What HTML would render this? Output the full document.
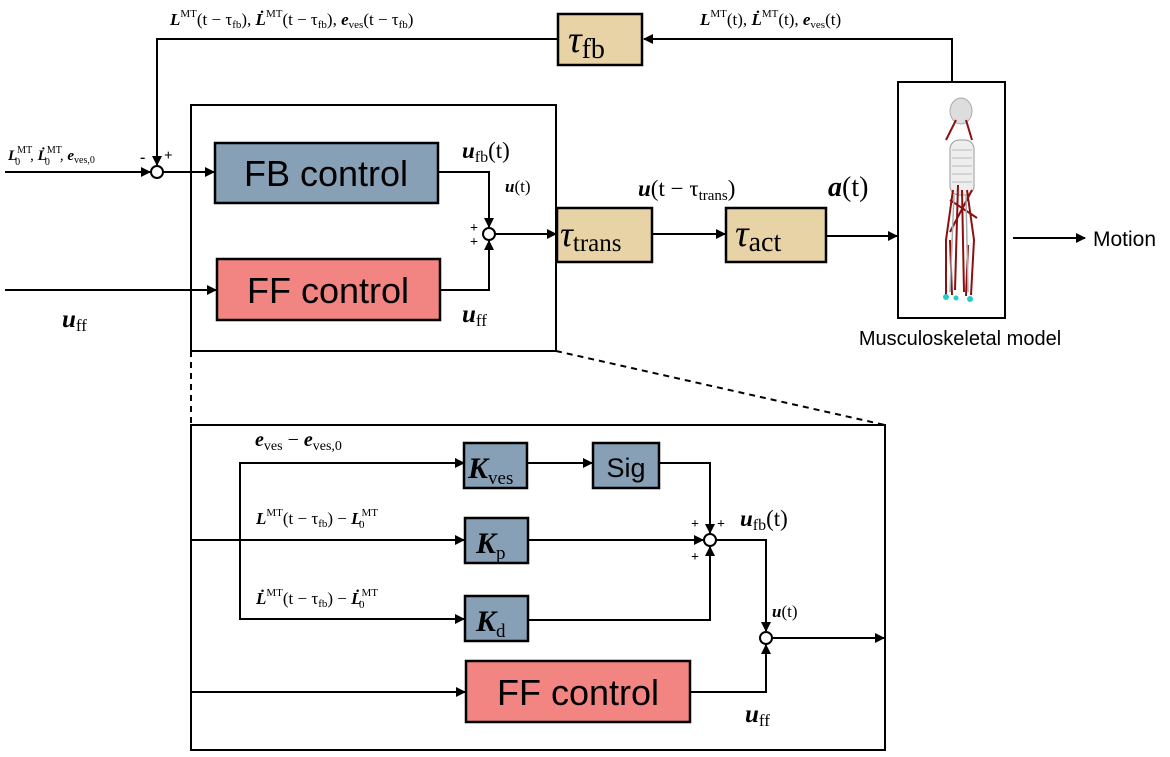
<!DOCTYPE html>
<html><head><meta charset="utf-8"><style>
html,body{margin:0;padding:0;background:#fff;}
svg{display:block;}
.m{font-family:"Liberation Serif",serif;}
.s{font-family:"Liberation Sans",sans-serif;}
</style></head><body>
<svg width="1170" height="757" viewBox="0 0 1170 757" xmlns="http://www.w3.org/2000/svg">
<defs>
<marker id="a" markerWidth="10" markerHeight="10" refX="9" refY="5" orient="auto" markerUnits="userSpaceOnUse">
<path d="M0,0 L10,5 L0,10 z" fill="#000"/></marker>
</defs>
<g stroke="#000" stroke-width="2" fill="none">
<polyline points="952,82 952,39 644,39" marker-end="url(#a)"/>
<polyline points="558,39 157,39 157,165" marker-end="url(#a)"/>
<line x1="5" y1="172" x2="150" y2="172" marker-end="url(#a)"/>
<circle cx="157" cy="172" r="6" fill="#fff"/>
<line x1="163" y1="172" x2="214" y2="172" marker-end="url(#a)"/>
<line x1="5" y1="290" x2="216" y2="290" marker-end="url(#a)"/>
<rect x="191" y="105" width="365" height="246"/>
<polyline points="438,172 489,172 489,227" marker-end="url(#a)"/>
<polyline points="440,290 489,290 489,241" marker-end="url(#a)"/>
<circle cx="489" cy="234" r="6" fill="#fff"/>
<line x1="495" y1="234" x2="556" y2="234" marker-end="url(#a)"/>
<line x1="652" y1="234" x2="725" y2="234" marker-end="url(#a)"/>
<line x1="826" y1="236" x2="897" y2="236" marker-end="url(#a)"/>
<line x1="1013" y1="238" x2="1085" y2="238" marker-end="url(#a)"/>
<rect x="898" y="82" width="107" height="236"/>
<line x1="191" y1="351" x2="191" y2="425" stroke-dasharray="6,5"/>
<line x1="556" y1="351" x2="885" y2="425" stroke-dasharray="6,5"/>
<rect x="191" y="425" width="694" height="325"/>
<line x1="190" y1="540" x2="464" y2="540" marker-end="url(#a)"/>
<polyline points="464,463 240,463 240,619 464,619" />
<line x1="440" y1="463" x2="464" y2="463" marker-end="url(#a)"/>
<line x1="440" y1="619" x2="464" y2="619" marker-end="url(#a)"/>
<line x1="527" y1="463" x2="592" y2="463" marker-end="url(#a)"/>
<polyline points="659,463 710,463 710,533" marker-end="url(#a)"/>
<line x1="528" y1="540" x2="703" y2="540" marker-end="url(#a)"/>
<polyline points="528,620 710,620 710,547" marker-end="url(#a)"/>
<circle cx="710" cy="540" r="6" fill="#fff"/>
<polyline points="716,540 766,540 766,631" marker-end="url(#a)"/>
<polyline points="690,692 766,692 766,645" marker-end="url(#a)"/>
<circle cx="766" cy="638" r="6" fill="#fff"/>
<line x1="772" y1="638" x2="884" y2="638" marker-end="url(#a)"/>
<line x1="190" y1="692" x2="465" y2="692" marker-end="url(#a)"/>
</g>
<g stroke="#000" stroke-width="2.5">
<rect x="558" y="14" width="84" height="51" fill="#e8d3a6"/>
<rect x="215" y="143" width="223" height="60" fill="#87a0b6"/>
<rect x="217" y="259" width="223" height="61" fill="#f28482"/>
<rect x="557" y="208" width="95" height="54" fill="#e8d3a6"/>
<rect x="726" y="208" width="100" height="54" fill="#e8d3a6"/>
<rect x="464" y="443" width="63" height="45" fill="#87a0b6"/>
<rect x="593" y="443" width="66" height="45" fill="#87a0b6"/>
<rect x="465" y="518" width="63" height="45" fill="#87a0b6"/>
<rect x="465" y="596" width="63" height="45" fill="#87a0b6"/>
<rect x="466" y="661" width="224" height="61" fill="#f28482"/>
</g>
<g class="s" fill="#000">
<text x="326" y="186" font-size="36" text-anchor="middle">FB control</text>
<text x="328" y="303" font-size="36" text-anchor="middle">FF control</text>
<text x="578" y="705" font-size="36" text-anchor="middle">FF control</text>
<text x="626" y="477" font-size="27" text-anchor="middle">Sig</text>
<text x="1093" y="246" font-size="21">Motion</text>
<text x="960" y="345" font-size="20" text-anchor="middle">Musculoskeletal model</text>
</g>
<g class="m" fill="#000">
<text x="568" y="52" font-size="38" font-style="italic">τ<tspan font-style="normal" font-size="28" dy="6">fb</tspan></text>
<text x="560" y="246" font-size="36" font-style="italic">τ<tspan font-style="normal" font-size="25" dy="5">trans</tspan></text>
<text x="735" y="246" font-size="38" font-style="italic">τ<tspan font-style="normal" font-size="28" dy="5">act</tspan></text>
<text x="468" y="478" font-size="30" font-style="italic" font-weight="bold">K<tspan font-style="normal" font-weight="normal" font-size="19" dy="6">ves</tspan></text>
<text x="476" y="553" font-size="30" font-style="italic" font-weight="bold">K<tspan font-style="normal" font-weight="normal" font-size="19" dy="6">p</tspan></text>
<text x="476" y="631" font-size="30" font-style="italic" font-weight="bold">K<tspan font-style="normal" font-weight="normal" font-size="19" dy="6">d</tspan></text>
<text x="170" y="25" font-size="17"><tspan font-weight="bold" font-style="italic">L</tspan><tspan font-size="11" dy="-8">MT</tspan><tspan dy="8">(t − τ</tspan><tspan font-size="11" dy="3">fb</tspan><tspan dy="-3">), </tspan><tspan font-weight="bold" font-style="italic">L̇</tspan><tspan font-size="11" dy="-8">MT</tspan><tspan dy="8">(t − τ</tspan><tspan font-size="11" dy="3">fb</tspan><tspan dy="-3">), </tspan><tspan font-weight="bold" font-style="italic">e</tspan><tspan font-size="11" dy="3">ves</tspan><tspan dy="-3">(t − τ</tspan><tspan font-size="11" dy="3">fb</tspan><tspan dy="-3">)</tspan></text>
<text x="700" y="25" font-size="17"><tspan font-weight="bold" font-style="italic">L</tspan><tspan font-size="11" dy="-8">MT</tspan><tspan dy="8">(t), </tspan><tspan font-weight="bold" font-style="italic">L̇</tspan><tspan font-size="11" dy="-8">MT</tspan><tspan dy="8">(t), </tspan><tspan font-weight="bold" font-style="italic">e</tspan><tspan font-size="11" dy="3">ves</tspan><tspan dy="-3">(t)</tspan></text>
<text x="8" y="160" font-size="15"><tspan font-weight="bold" font-style="italic">L</tspan><tspan font-size="10" dy="-7">MT</tspan><tspan font-size="10" dx="-17" dy="12">0</tspan><tspan dx="10" dy="-5">, </tspan><tspan font-weight="bold" font-style="italic">L̇</tspan><tspan font-size="10" dy="-7">MT</tspan><tspan font-size="10" dx="-17" dy="12">0</tspan><tspan dx="10" dy="-5">, </tspan><tspan font-weight="bold" font-style="italic">e</tspan><tspan font-size="10" dy="3">ves,0</tspan></text>
<text x="140" y="162" font-size="16" font-weight="bold">-</text>
<text x="164" y="160" font-size="15" font-weight="bold">+</text>
<text x="462" y="158" font-size="23"><tspan font-weight="bold" font-style="italic">u</tspan><tspan font-size="16" dy="4">fb</tspan><tspan dy="-4">(t)</tspan></text>
<text x="505" y="192" font-size="17"><tspan font-weight="bold" font-style="italic">u</tspan>(t)</text>
<text x="470" y="232" font-size="14" font-weight="bold">+</text>
<text x="470" y="246" font-size="14" font-weight="bold">+</text>
<text x="462" y="322" font-size="25"><tspan font-weight="bold" font-style="italic">u</tspan><tspan font-size="17" dy="4">ff</tspan></text>
<text x="62" y="327" font-size="25"><tspan font-weight="bold" font-style="italic">u</tspan><tspan font-size="17" dy="4">ff</tspan></text>
<text x="638" y="196" font-size="23"><tspan font-weight="bold" font-style="italic">u</tspan>(t − τ<tspan font-size="15" dy="4">trans</tspan><tspan dy="-4">)</tspan></text>
<text x="828" y="196" font-size="28"><tspan font-weight="bold" font-style="italic">a</tspan>(t)</text>
<text x="255" y="446" font-size="20"><tspan font-weight="bold" font-style="italic">e</tspan><tspan font-size="14" dy="4">ves</tspan><tspan dy="-4"> − </tspan><tspan font-weight="bold" font-style="italic">e</tspan><tspan font-size="14" dy="4">ves,0</tspan></text>
<text x="256" y="524" font-size="17"><tspan font-weight="bold" font-style="italic">L</tspan><tspan font-size="11" dy="-8">MT</tspan><tspan dy="8">(t − τ</tspan><tspan font-size="11" dy="3">fb</tspan><tspan dy="-3">) − </tspan><tspan font-weight="bold" font-style="italic">L</tspan><tspan font-size="11" dy="-8">MT</tspan><tspan font-size="11" dx="-19" dy="12">0</tspan></text>
<text x="256" y="604" font-size="17"><tspan font-weight="bold" font-style="italic">L̇</tspan><tspan font-size="11" dy="-8">MT</tspan><tspan dy="8">(t − τ</tspan><tspan font-size="11" dy="3">fb</tspan><tspan dy="-3">) − </tspan><tspan font-weight="bold" font-style="italic">L̇</tspan><tspan font-size="11" dy="-8">MT</tspan><tspan font-size="11" dx="-19" dy="12">0</tspan></text>
<text x="740" y="526" font-size="23"><tspan font-weight="bold" font-style="italic">u</tspan><tspan font-size="16" dy="4">fb</tspan><tspan dy="-4">(t)</tspan></text>
<text x="772" y="617" font-size="17"><tspan font-weight="bold" font-style="italic">u</tspan>(t)</text>
<text x="745" y="722" font-size="25"><tspan font-weight="bold" font-style="italic">u</tspan><tspan font-size="17" dy="4">ff</tspan></text>
<text x="691" y="528" font-size="14" font-weight="bold">+</text>
<text x="717" y="528" font-size="14" font-weight="bold">+</text>
<text x="691" y="561" font-size="14" font-weight="bold">+</text>
</g>
<g>
<ellipse cx="961" cy="111" rx="11" ry="13" fill="#ddd" stroke="#aaa"/>
<rect x="950" y="140" width="24" height="55" rx="9" fill="#eee" stroke="#999"/>
<g stroke="#bbb" stroke-width="1" fill="none"><path d="M952,150 H972 M952,158 H972 M952,166 H972 M952,174 H972 M952,182 H972"/></g>
<g stroke="#8b1010" stroke-width="2" fill="none">
<path d="M956,120 L946,140 M966,120 L972,140 M953,190 L946,240 L946,295 M967,190 L974,240 L971,295 M958,185 L955,290 M962,190 L964,292 M950,200 L977,218 M972,190 L950,232 M950,240 L952,295 M968,245 L966,296"/>
</g>
<g stroke="#aaa" stroke-width="1.5" fill="none"><path d="M954,195 L950,292 M966,195 L968,292"/></g>
<circle cx="946" cy="297" r="3" fill="#2cc"/><circle cx="970" cy="299" r="3" fill="#2cc"/><circle cx="956" cy="298" r="2.5" fill="#2cc"/>
</g>
</svg>
</body></html>
